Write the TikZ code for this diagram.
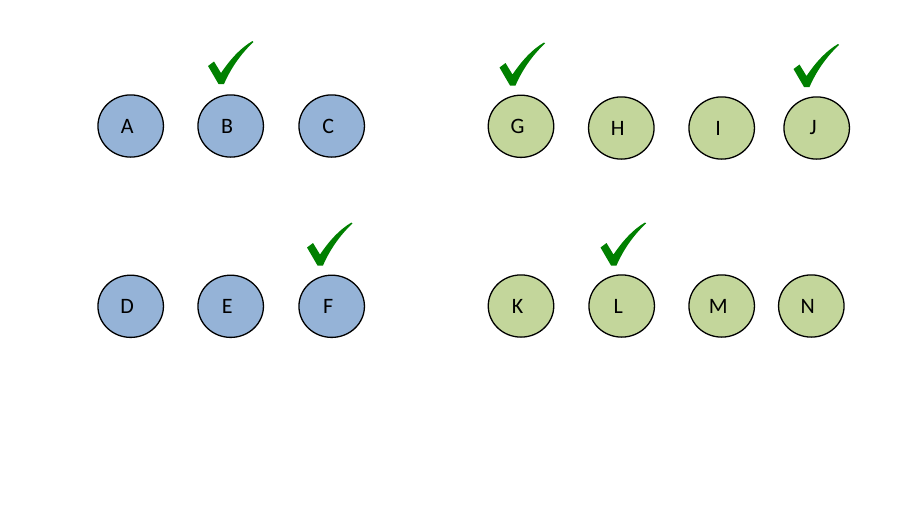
\documentclass[tikz,border=0pt]{standalone}
\usepackage{fontspec}
\setmainfont{Carlito}
\usetikzlibrary{shapes.geometric}
\definecolor{bluefill}{HTML}{95B3D7}
\definecolor{greenfill}{HTML}{C3D69B}
\definecolor{tickgreen}{RGB}{0,128,0}
\newcommand{\bigletter}{\fontsize{22}{26}\selectfont}
\tikzset{
  oval/.style={ellipse, draw=black, line width=1.3pt, minimum width=65.5pt, minimum height=62.2pt, inner sep=0pt, font=\bigletter},
  bluenode/.style={oval, fill=bluefill},
  greennode/.style={oval, fill=greenfill},
  tick/.pic={
    \fill[tickgreen] (0,0) -- (-10.5,-18) -- (-4.5,-22.5) -- (2.5,-11)
      .. controls (12,-25) and (22,-36) .. (34,-43) -- (35,-42)
      .. controls (22,-30) and (12,-15) .. (5.5,0) -- cycle;
  }
}
\begin{document}
\begin{tikzpicture}[x=1pt,y=-1pt]
\useasboundingbox (0,0) rectangle (910,512);
% blue group
\node[bluenode] (A) at (130.7,126) {\kern-7pt A};
\node[bluenode] (B) at (230.7,126) {\kern-7pt B};
\node[bluenode] (C) at (331.7,126) {\kern-7pt C};
\node[bluenode] (D) at (130.7,306.3) {\kern-7pt D};
\node[bluenode] (E) at (230.7,306.3) {\kern-7pt E};
\node[bluenode] (F) at (331.7,306.3) {\kern-7pt F};
% green group
\node[greennode] (G) at (521,126.3) {\kern-7pt G};
\node[greennode] (H) at (621.3,128) {\kern-7pt H};
\node[greennode] (I) at (721.7,128) {\kern-7pt I};
\node[greennode] (J) at (816.7,128) {\kern-7pt J};
\node[greennode] (K) at (521,306) {\kern-7pt K};
\node[greennode] (L) at (621.7,306) {\kern-7pt L};
\node[greennode] (M) at (721.7,306) {\kern-7pt M};
\node[greennode] (N) at (811.3,306) {\kern-7pt N};
% ticks
\pic at (218.5,84) {tick};
\pic at (317.5,265.5) {tick};
\pic at (510,85.5) {tick};
\pic at (804,87) {tick};
\pic at (611,265.5) {tick};
\end{tikzpicture}
\end{document}
